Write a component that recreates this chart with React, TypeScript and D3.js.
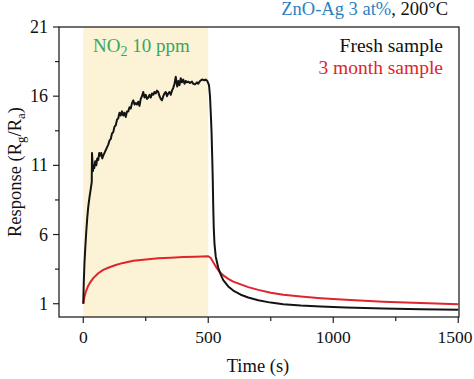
import React from "react";
import * as d3 from "d3";

const freshT = [0,2,5,8,12,16,20,25,30,34,35,37,39,41,44,48,52,56,60,64,68,72,76,80,85,90,95,100,105,110,115,120,125,130,135,140,145,150,155,160,165,170,175,180,185,190,195,200,205,210,215,220,225,230,235,240,245,250,255,260,265,270,275,280,285,290,295,300,305,310,315,320,325,330,335,340,345,350,355,360,365,370,373,376,380,385,390,395,400,405,410,415,420,427,435,440,447,455,460,467,475,485,490,496,503,507,510,513,516,518,520,522,525,530,540,550,560,580,600,630,660,700,750,800,870,950,1050,1200,1350,1500];
const freshY = [1.0,2.5,4.0,5.0,6.2,7.2,8.0,8.7,9.3,9.8,11.9,11.2,10.6,11.0,10.8,11.3,11.0,11.5,11.4,11.9,11.7,11.9,11.5,11.7,11.9,12.1,12.3,12.5,12.8,12.9,13.3,13.4,13.8,13.9,14.3,14.4,14.8,14.6,14.9,14.6,14.8,14.5,14.9,14.9,15.2,15.1,15.5,15.7,15.4,15.5,15.4,15.6,15.3,15.8,16.0,16.3,15.9,16.1,15.8,15.9,16.1,15.9,16.2,16.1,16.3,16.2,16.4,16.3,16.0,15.8,15.7,16.0,16.2,16.3,16.0,16.2,16.3,16.1,16.4,16.6,16.9,17.4,17.0,16.7,17.1,16.8,17.3,17.0,17.2,16.9,17.1,17.0,17.05,16.95,17.05,16.9,16.85,17.0,16.9,17.1,17.2,17.15,17.2,17.1,16.8,16.0,14.8,13.5,11.5,10.0,8.0,6.5,5.3,4.4,3.6,3.1,2.7,2.25,1.95,1.65,1.45,1.25,1.08,0.97,0.87,0.79,0.72,0.65,0.6,0.57];

const agedT = [0,5,10,20,30,40,60,80,100,130,160,200,250,300,350,400,450,500,510,520,533,545,560,580,600,630,660,700,750,800,870,950,1050,1200,1350,1500];
const agedY = [1.0,1.5,1.85,2.3,2.6,2.85,3.2,3.45,3.6,3.8,3.95,4.1,4.2,4.28,4.33,4.37,4.4,4.43,4.3,4.0,3.6,3.3,3.05,2.8,2.6,2.4,2.2,2.0,1.8,1.65,1.52,1.4,1.28,1.15,1.05,0.97];

const xTicks = [0, 500, 1000, 1500];
const xMinor = [250, 750, 1250];
const yTicks = [1, 6, 11, 16, 21];
const yMinor = [3.5, 8.5, 13.5, 18.5];
const exposure = [0, 500];

const W = 474, H = 379;
const L = 59, R = 459, T = 27, B = 317;
const FONT = "'Liberation Serif', 'Times New Roman', serif";

export default function App() {
  const x = d3.scaleLinear().domain([-97, 1503]).range([L, R]);
  const y = d3.scaleLinear().domain([0.04, 21]).range([B, T]);
  const mk = (ts: number[], ys: number[]) =>
    d3.line<[number, number]>().x(d => x(d[0])).y(d => y(d[1]))(ts.map((t, i) => [t, ys[i]] as [number, number])) || "";
  return (
    <svg width={W} height={H} style={{ position: "absolute", left: 0, top: 0, fontFamily: FONT }}>
      <rect x={x(exposure[0])} y={T} width={x(exposure[1]) - x(exposure[0])} height={B - T} fill="#fcf3d6" />
      <path d={mk(agedT, agedY)} fill="none" stroke="#e0242b" strokeWidth={2} strokeLinejoin="round" />
      <path d={mk(freshT, freshY)} fill="none" stroke="#141414" strokeWidth={2} strokeLinejoin="round" />
      <rect x={L} y={T} width={R - L} height={B - T} fill="none" stroke="#222" strokeWidth={1.3} />
      {xTicks.map(t => (
        <g key={"x" + t}>
          <line x1={x(t)} x2={x(t)} y1={B} y2={B + 6} stroke="#222" strokeWidth={1.2} />
          <text x={Math.min(x(t), 455)} y={343} fontSize={17.5} textAnchor="middle" fill="#111">{t}</text>
        </g>
      ))}
      {xMinor.map(t => (
        <line key={"xm" + t} x1={x(t)} x2={x(t)} y1={B} y2={B + 4} stroke="#222" strokeWidth={1.2} />
      ))}
      {yTicks.map(v => (
        <g key={"y" + v}>
          <line x1={L - 6} x2={L} y1={y(v)} y2={y(v)} stroke="#222" strokeWidth={1.2} />
          <text x={48} y={y(v) + 6} fontSize={18} textAnchor="end" fill="#111">{v}</text>
        </g>
      ))}
      {yMinor.map(v => (
        <line key={"ym" + v} x1={L - 4} x2={L} y1={y(v)} y2={y(v)} stroke="#222" strokeWidth={1.2} />
      ))}
      <text x={258} y={372} fontSize={18.5} textAnchor="middle" fill="#111">Time (s)</text>
      <text transform={`translate(21, ${(T + B) / 2}) rotate(-90)`} fontSize={18.5} textAnchor="middle" fill="#111">
        Response (R<tspan fontSize={13} dy={4}>g</tspan><tspan dy={-4}>/R</tspan><tspan fontSize={13} dy={4}>a</tspan><tspan dy={-4}>)</tspan>
      </text>
      <text x={93} y={52} fontSize={19} fill="#3aa65a">
        NO<tspan fontSize={14} dy={4}>2</tspan><tspan dy={-4}> 10 ppm</tspan>
      </text>
      <text x={448} y={15} fontSize={18.5} textAnchor="end">
        <tspan fill="#2b7fc1">ZnO-Ag 3 at%</tspan><tspan fill="#111">, 200°C</tspan>
      </text>
      <text x={443} y={52} fontSize={19.5} textAnchor="end" fill="#111">Fresh sample</text>
      <text x={443} y={74} fontSize={19.5} textAnchor="end" fill="#e0242b">3 month sample</text>
    </svg>
  );
}
